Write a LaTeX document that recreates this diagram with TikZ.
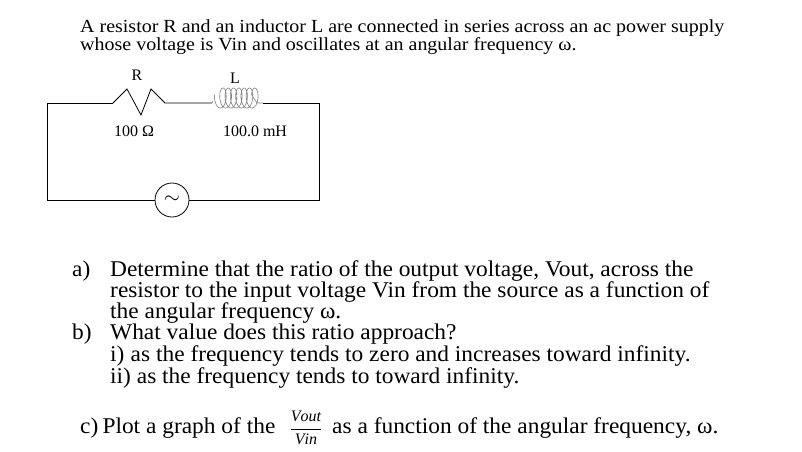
\documentclass[tikz,border=0pt]{standalone}
\usepackage{fontspec}
\setmainfont{Liberation Serif}
\begin{document}
\begin{tikzpicture}[x=1pt,y=-1pt,
  wire/.style={line width=0.8pt},
  txt/.style={inner sep=0,anchor=base west,font=\fontsize{18.5}{18}\selectfont,xscale=1.08},
  qtxt/.style={inner sep=0,anchor=base west,font=\fontsize{22.5}{22}\selectfont,xscale=1.04},
  lbl/.style={inner sep=0,font=\fontsize{16}{16}\selectfont}]
\useasboundingbox (0,0) rectangle (802,451);
\fill[white] (0,0) rectangle (802,451);
\node[txt] (t1) at (80,32) {A resistor R and an inductor L are connected in series across an ac power supply};
\node[txt] (t2) at (80,50) {whose voltage is Vin and oscillates at an angular frequency ω.};
% circuit
\coordinate (tl) at (47,103);
\coordinate (tr) at (319,103);
\coordinate (bl) at (47,200);
\coordinate (br) at (319,200);
\coordinate (ra) at (113,103);
\coordinate (rb) at (165,103);
\coordinate (la) at (212,103);
\coordinate (lb) at (263,103);
\node[draw,circle,minimum size=34pt,inner sep=0,wire] (src) at (172,200) {\fontsize{20}{20}\selectfont$\sim$};
\draw[wire] (ra) -- (tl) -- (bl) -- (src.west);
\draw[wire] (src.east) -- (br) -- (tr) -- (lb);
\draw[wire] (ra) -- (127,89) -- (141,115) -- (151,89) -- (rb) -- (la);
\draw[gray,line width=0.6pt] (la) -- (213,101) plot[domain=160:2680,samples=300] ({219+5.3*(\x-180)/360+4.5*cos(\x)},{98-10*sin(\x)}) -- (257,103) -- (lb);
\node[lbl] (R) at (137,75) {R};
\node[lbl] (L) at (235,78) {L};
\node[lbl] (Rv) at (134,131) {100 Ω};
\node[lbl] (Lv) at (255,131) {100.0 mH};
% questions
\node[qtxt] (a) at (72,276) {a)};
\node[qtxt] (a1) at (110,276) {Determine that the ratio of the output voltage, Vout, across the};
\node[qtxt] (a2) at (110,297) {resistor to the input voltage Vin from the source as a function of};
\node[qtxt] (a3) at (110,318) {the angular frequency ω.};
\node[qtxt] (b) at (72,339) {b)};
\node[qtxt] (b1) at (110,339) {What value does this ratio approach?};
\node[qtxt] (b2) at (110,361) {i)\hspace{6pt}as the frequency tends to zero and increases toward infinity.};
\node[qtxt] (b3) at (110,383) {ii) as the frequency tends to toward infinity.};
\node[qtxt] (c) at (80,433) {c)\hspace{4pt}Plot a graph of the};
\node[inner sep=0,font=\fontsize{16}{16}\selectfont] (frac) at (306,428) {$\displaystyle\frac{\mathit{Vout}}{\mathit{Vin}}$};
\node[qtxt] (c2) at (332,433) {as a function of the angular frequency, ω.};
\end{tikzpicture}
\end{document}
